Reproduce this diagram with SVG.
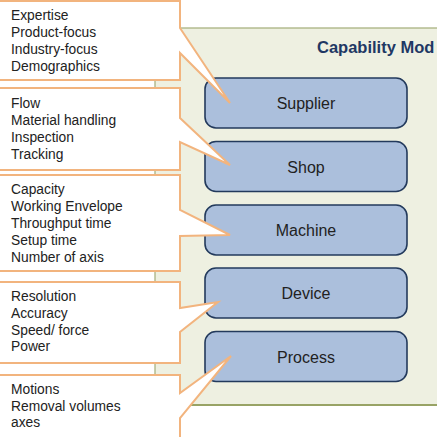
<svg xmlns="http://www.w3.org/2000/svg" width="437" height="437" viewBox="0 0 437 437">
<style>
.panel{fill:#eef0e1;stroke:#a3ad78;stroke-width:1.2}
.node rect{fill:#abbfdc;stroke:#233a5c;stroke-width:1.6}
.node text{font-family:"Liberation Sans",Arial,sans-serif;font-size:16px;fill:#222;text-anchor:middle}
.callout path{fill:#fff;stroke:#f2b47e;stroke-width:2;stroke-linejoin:miter}
.callout text{font-family:"Liberation Sans",Arial,sans-serif;font-size:13.8px;fill:#222}
.title{font-family:"Liberation Sans",Arial,sans-serif;font-size:16.5px;font-weight:bold;fill:#1f3864}
</style>
<rect width="437" height="437" fill="#fff"/>
<g id="panel">
<rect class="panel" x="155" y="28" width="300" height="377"/>
<line x1="155" y1="405" x2="437" y2="405" stroke="#98a365" stroke-width="2"/>
<text class="title" x="317" y="53">Capability Mod</text>
</g>
<g id="supplier" class="node"><rect x="205" y="78" width="202" height="50" rx="11"/><text x="306" y="109">Supplier</text></g>
<g id="shop" class="node"><rect x="205" y="141.5" width="202" height="50" rx="11"/><text x="306" y="172.5">Shop</text></g>
<g id="machine" class="node"><rect x="205" y="205" width="202" height="50" rx="11"/><text x="306" y="236">Machine</text></g>
<g id="device" class="node"><rect x="205" y="268" width="202" height="50" rx="11"/><text x="306" y="299">Device</text></g>
<g id="process" class="node"><rect x="205" y="331.5" width="202" height="50" rx="11"/><text x="306" y="362.5">Process</text></g>
<g id="connectors">
<g id="callout-supplier" class="callout">
<path d="M-10,1 H180 V28 L230,103 L180,53 V80 H-10 Z"/>
<text x="11" y="19.5">Expertise</text>
<text x="11" y="36.5">Product-focus</text>
<text x="11" y="53.5">Industry-focus</text>
<text x="11" y="70.5">Demographics</text>
</g>
<g id="callout-shop" class="callout">
<path d="M-10,88 H180 V118 L230,165 L180,142 V170 H-10 Z"/>
<text x="11" y="107.5">Flow</text>
<text x="11" y="124.5">Material handling</text>
<text x="11" y="141.5">Inspection</text>
<text x="11" y="158.5">Tracking</text>
</g>
<g id="callout-machine" class="callout">
<path d="M-10,175 H180 V210 L230,235 L180,236 V271 H-10 Z"/>
<text x="11" y="193.5">Capacity</text>
<text x="11" y="210.5">Working Envelope</text>
<text x="11" y="227.5">Throughput time</text>
<text x="11" y="244.5">Setup time</text>
<text x="11" y="261.5">Number of axis</text>
</g>
<g id="callout-device" class="callout">
<path d="M-10,282 H180 V308 L218,302 L180,332 V363 H-10 Z"/>
<text x="11" y="300.5">Resolution</text>
<text x="11" y="317.5">Accuracy</text>
<text x="11" y="334.5">Speed/ force</text>
<text x="11" y="351">Power</text>
</g>
<g id="callout-process" class="callout">
<path d="M-10,375 H180 V393 L231,356 L180,418 V447 H-10 Z"/>
<text x="11" y="394">Motions</text>
<text x="11" y="410.5">Removal volumes</text>
<text x="11" y="427">axes</text>
</g>
</g>
</svg>
